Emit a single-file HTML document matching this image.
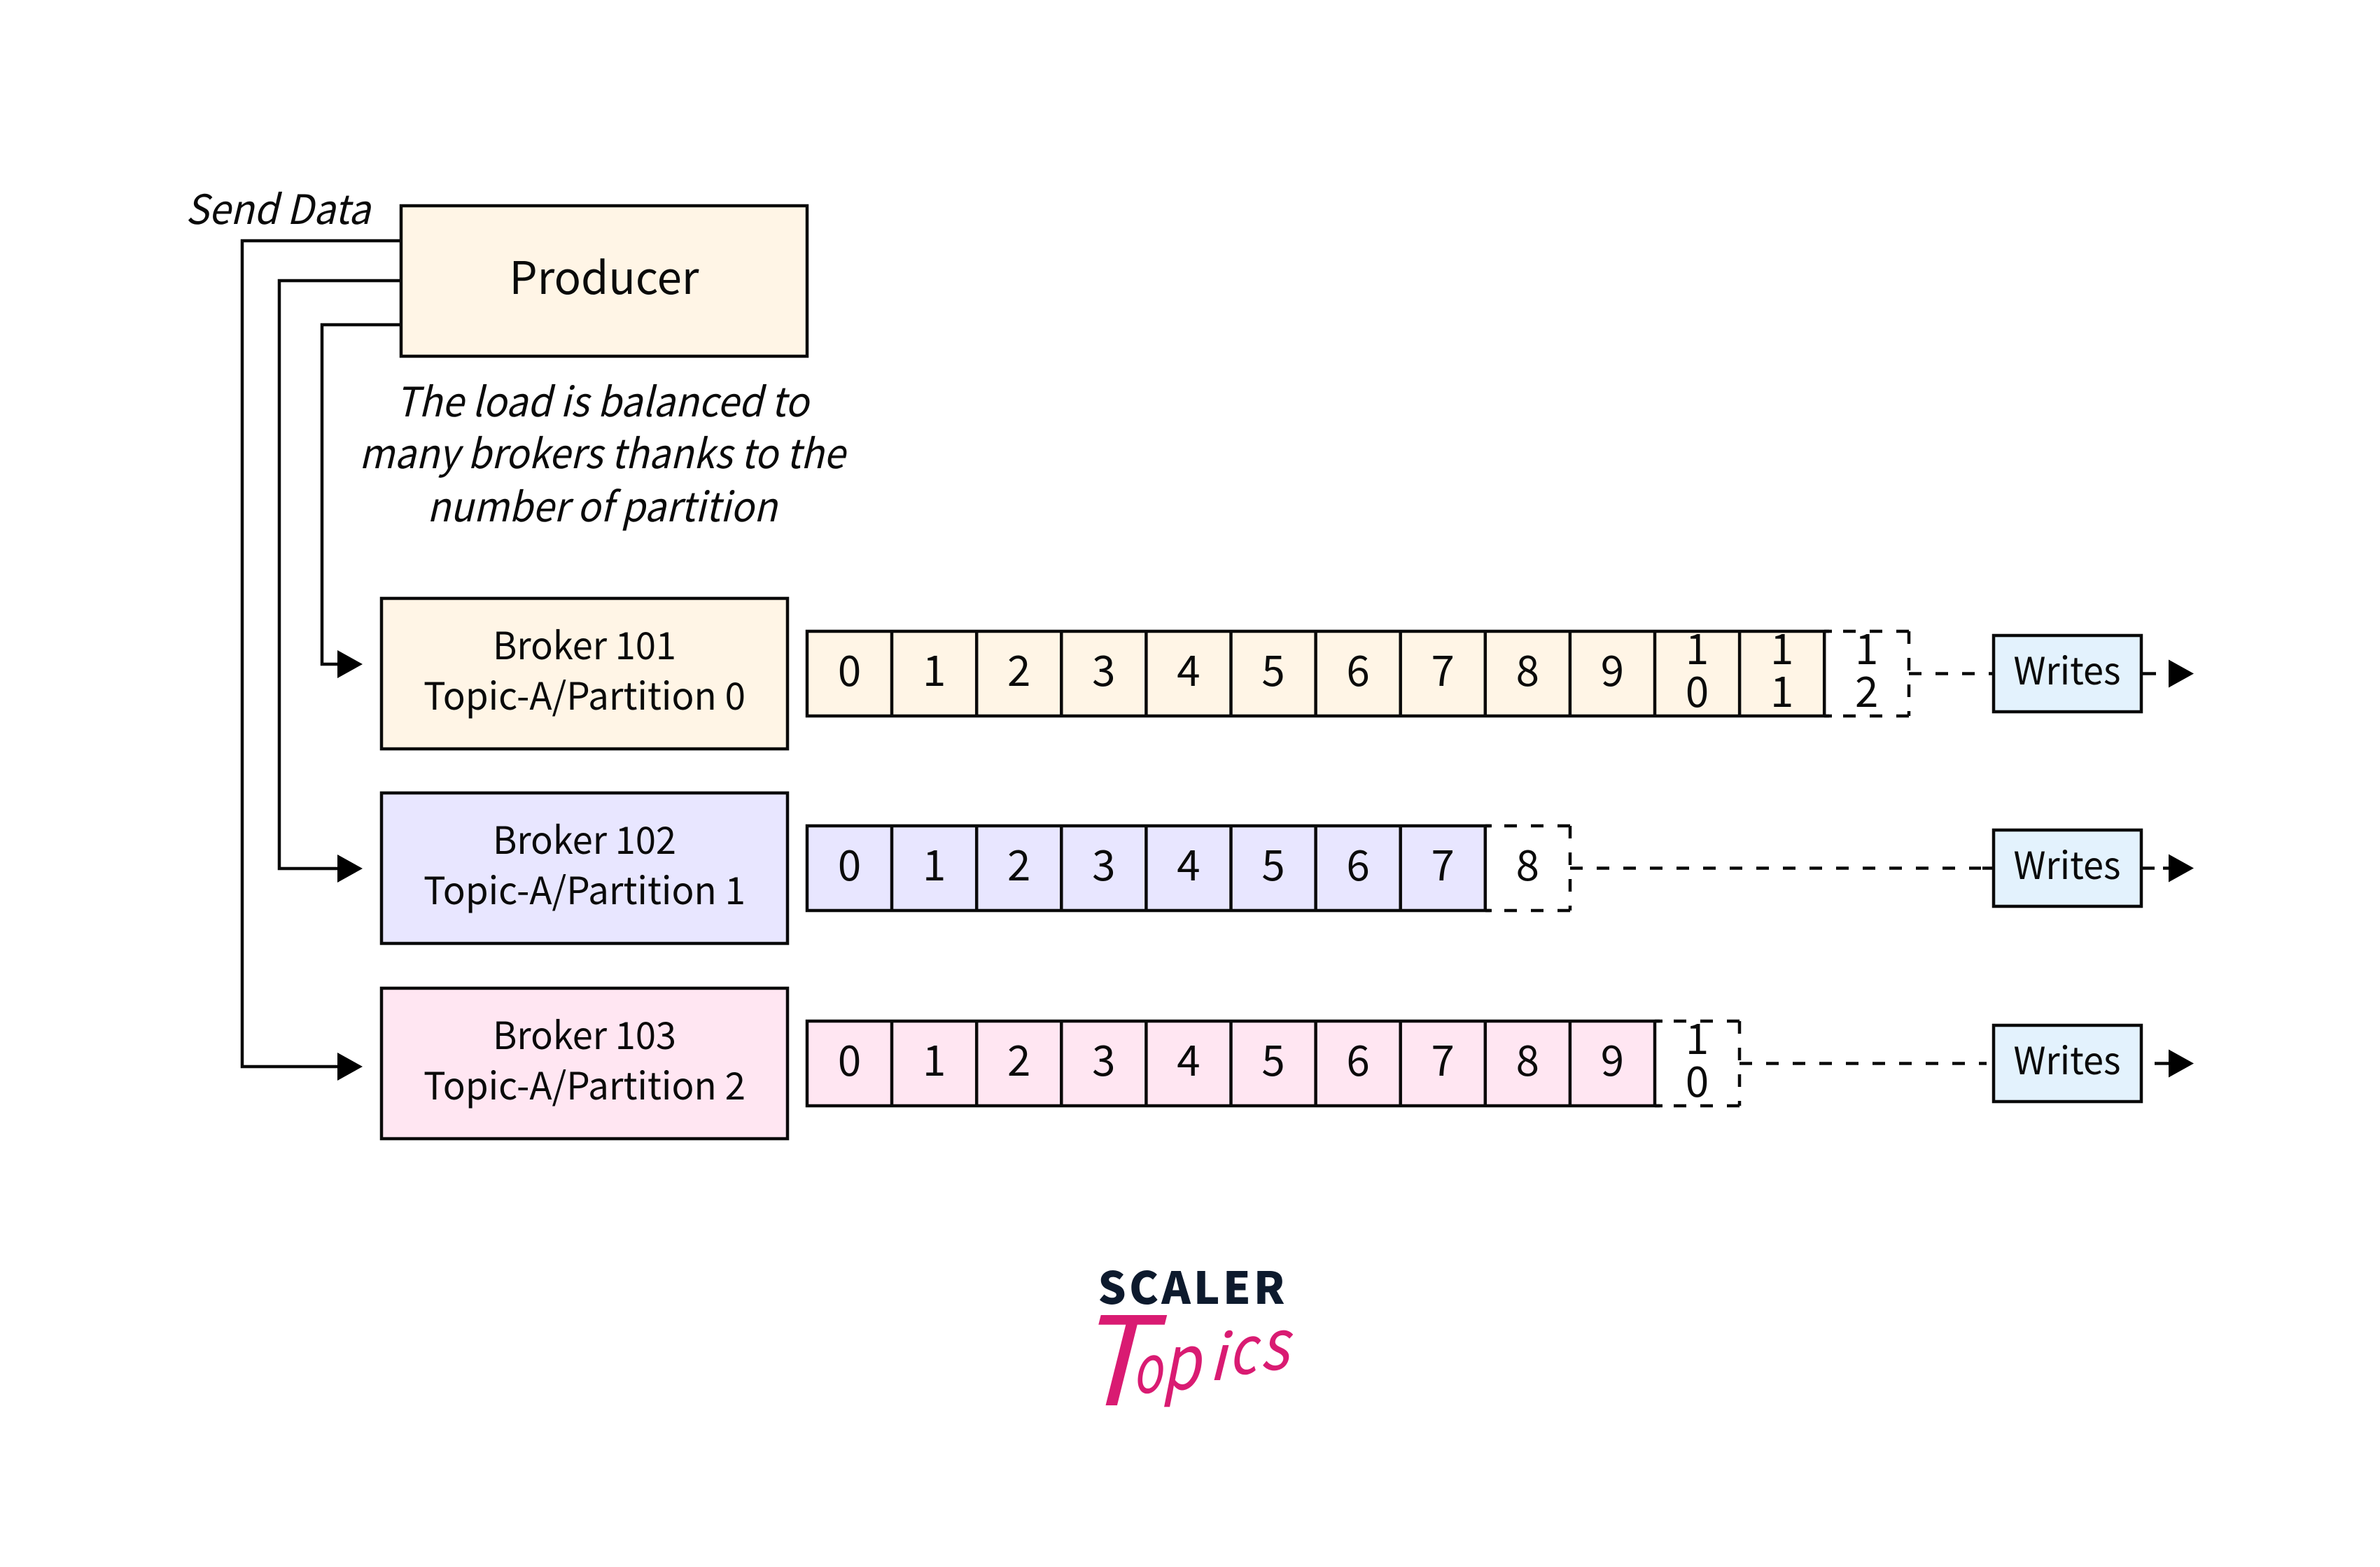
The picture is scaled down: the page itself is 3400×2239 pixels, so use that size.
<!DOCTYPE html>
<html><head><meta charset="utf-8"><style>
html,body{margin:0;padding:0;background:#fff;width:3400px;height:2239px;overflow:hidden}
svg{display:block}
text{font-family:"Noto Sans CJK JP","Liberation Sans",sans-serif;fill:#0a0a0a;text-anchor:middle}
.i{font-style:italic;font-size:58px}
.b{font-size:54px}
.d{font-size:60px}
.c{stroke:#0a0a0a;stroke-width:4.5;fill:none}
.s{stroke:#0a0a0a;stroke-width:4.5}
.da{stroke:#0a0a0a;stroke-width:4.5;fill:none;stroke-dasharray:18 20}
.y{fill:#fff5e6}.l{fill:#e8e6ff}.p{fill:#ffe6f2}.w{fill:#e3f2fd}
.t{font-style:italic;font-weight:400;fill:#d91b72;text-anchor:start}
</style></head><body>
<svg xmlns="http://www.w3.org/2000/svg" width="3400" height="2239" viewBox="0 0 3400 2239">
<rect width="3400" height="2239" fill="#fff"/>
<rect class="s y" x="573" y="294" width="580" height="215"/>
<text x="863" y="420" font-size="64" textLength="271" lengthAdjust="spacingAndGlyphs">Producer</text>
<text class="i" x="397" y="320" textLength="264" lengthAdjust="spacingAndGlyphs">Send Data</text>
<text class="i" x="860" y="595" textLength="590" lengthAdjust="spacingAndGlyphs">The load is balanced to</text>
<text class="i" x="860" y="669" textLength="694" lengthAdjust="spacingAndGlyphs">many brokers thanks to the</text>
<text class="i" x="860" y="745" textLength="500" lengthAdjust="spacingAndGlyphs">number of partition</text>
<path class="c" d="M573 344H346V1524H490"/>
<path class="c" d="M573 401H399V1241H490"/>
<path class="c" d="M573 464H460V949H490"/>
<path d="M482 929L518 949L482 969Z M482 1221L518 1241L482 1261Z M482 1504L518 1524L482 1544Z" fill="#000"/>

<g>
<rect class="s y" x="545" y="855" width="580" height="215"/>
<text class="b" x="835" y="942" textLength="262" lengthAdjust="spacingAndGlyphs">Broker 101</text>
<text class="b" x="835" y="1014" textLength="460" lengthAdjust="spacingAndGlyphs">Topic-A/Partition 0</text>
<rect class="y" x="1153" y="902" width="1453" height="121"/>
<path class="c" d="M2617 902H1153V1023H2617M1274 902V1023M1395.2 902V1023M1516.3 902V1023M1637.4 902V1023M1758.5 902V1023M1879.6 902V1023M2000.7 902V1023M2121.8 902V1023M2242.9 902V1023M2364 902V1023M2485.1 902V1023M2606.2 902V1023"/>
<text class="d" x="1213.5" y="980">0</text><text class="d" x="1334.6" y="980">1</text><text class="d" x="1455.7" y="980">2</text><text class="d" x="1576.8" y="980">3</text><text class="d" x="1697.9" y="980">4</text><text class="d" x="1819" y="980">5</text><text class="d" x="1940.1" y="980">6</text><text class="d" x="2061.2" y="980">7</text><text class="d" x="2182.3" y="980">8</text><text class="d" x="2303.4" y="980">9</text>
<text class="d" x="2424.5" y="949">1</text><text class="d" x="2424.5" y="1010">0</text>
<text class="d" x="2545.6" y="949">1</text><text class="d" x="2545.6" y="1010">1</text>
<text class="d" x="2666.7" y="949">1</text><text class="d" x="2666.7" y="1010">2</text>
<path class="da" d="M2727 902H2606M2727 902V1023M2727 1023H2606"/>
<path class="da" d="M2727 962.5H2848"/>
<rect class="s w" x="2848" y="908" width="211" height="109"/>
<text class="b" x="2953" y="978" textLength="153" lengthAdjust="spacingAndGlyphs">Writes</text>
<path class="c" d="M3059 962.5H3080"/>
<path d="M3098 942.5L3134 962.5L3098 982.5Z" fill="#000"/>
</g>

<g transform="translate(0,278)">
<rect class="s l" x="545" y="855" width="580" height="215"/>
<text class="b" x="835" y="942" textLength="262" lengthAdjust="spacingAndGlyphs">Broker 102</text>
<text class="b" x="835" y="1014" textLength="460" lengthAdjust="spacingAndGlyphs">Topic-A/Partition 1</text>
<rect class="l" x="1153" y="902" width="969" height="121"/>
<path class="c" d="M2131 902H1153V1023H2131M1274 902V1023M1395.2 902V1023M1516.3 902V1023M1637.4 902V1023M1758.5 902V1023M1879.6 902V1023M2000.7 902V1023M2121.8 902V1023"/>
<text class="d" x="1213.5" y="980">0</text><text class="d" x="1334.6" y="980">1</text><text class="d" x="1455.7" y="980">2</text><text class="d" x="1576.8" y="980">3</text><text class="d" x="1697.9" y="980">4</text><text class="d" x="1819" y="980">5</text><text class="d" x="1940.1" y="980">6</text><text class="d" x="2061.2" y="980">7</text><text class="d" x="2182.3" y="980">8</text>
<path class="da" d="M2243 902H2122M2243 902V1023M2243 1023H2122"/>
<path class="da" d="M2243 962.5H2830"/>
<path class="c" d="M2832 962.5H2848"/>
<rect class="s w" x="2848" y="908" width="211" height="109"/>
<text class="b" x="2953" y="978" textLength="153" lengthAdjust="spacingAndGlyphs">Writes</text>
<path class="c" d="M3059 962.5H3078M3090 962.5H3098"/>
<path d="M3098 942.5L3134 962.5L3098 982.5Z" fill="#000"/>
</g>

<g transform="translate(0,557)">
<rect class="s p" x="545" y="855" width="580" height="215"/>
<text class="b" x="835" y="942" textLength="262" lengthAdjust="spacingAndGlyphs">Broker 103</text>
<text class="b" x="835" y="1014" textLength="460" lengthAdjust="spacingAndGlyphs">Topic-A/Partition 2</text>
<rect class="p" x="1153" y="902" width="1211" height="121"/>
<path class="c" d="M2375 902H1153V1023H2375M1274 902V1023M1395.2 902V1023M1516.3 902V1023M1637.4 902V1023M1758.5 902V1023M1879.6 902V1023M2000.7 902V1023M2121.8 902V1023M2242.9 902V1023M2364 902V1023"/>
<text class="d" x="1213.5" y="980">0</text><text class="d" x="1334.6" y="980">1</text><text class="d" x="1455.7" y="980">2</text><text class="d" x="1576.8" y="980">3</text><text class="d" x="1697.9" y="980">4</text><text class="d" x="1819" y="980">5</text><text class="d" x="1940.1" y="980">6</text><text class="d" x="2061.2" y="980">7</text><text class="d" x="2182.3" y="980">8</text><text class="d" x="2303.4" y="980">9</text>
<text class="d" x="2424.5" y="949">1</text><text class="d" x="2424.5" y="1010">0</text>
<path class="da" d="M2485 902H2364M2485 902V1023M2485 1023H2364"/>
<path class="da" d="M2485 962.5H2838"/>
<rect class="s w" x="2848" y="908" width="211" height="109"/>
<text class="b" x="2953" y="978" textLength="153" lengthAdjust="spacingAndGlyphs">Writes</text>
<path class="c" d="M3078 962.5H3098"/>
<path d="M3098 942.5L3134 962.5L3098 982.5Z" fill="#000"/>
</g>

<text x="1702" y="1863" font-size="63" font-weight="900" style="fill:#0d1a2d" textLength="267">SCALER</text>
<text class="t" x="1535" y="2008" font-size="176">T</text>
<text class="t" font-size="92" transform="translate(1618,1990) scale(.75,1.05)">o</text>
<text class="t" font-size="92" transform="translate(1660,1985) scale(.95,1.2)">p</text>
<text class="t" font-size="92" transform="translate(1726,1972)">i</text>
<text class="t" font-size="92" transform="translate(1755,1963) scale(.85,1.05)">c</text>
<text class="t" font-size="92" transform="translate(1800,1957) scale(.95,1.1)">s</text>
</svg>
</body></html>
